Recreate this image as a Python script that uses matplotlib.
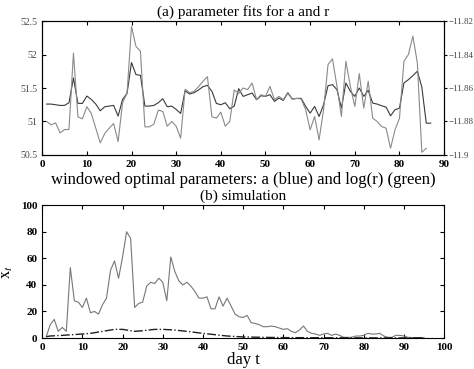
import numpy as np
import matplotlib
matplotlib.use("Agg")
import matplotlib.pyplot as plt

plt.rcParams['font.family'] = ['Liberation Serif', 'DejaVu Serif']
plt.rcParams['mathtext.fontset'] = 'stix'

# (a) windowed parameter fits, days 1..87 / 1..86
days_a = list(range(1, 88))
a_fit = [51.26, 51.26, 51.25, 51.24, 51.24, 51.28, 51.65, 51.27, 51.27, 51.38,
         51.33, 51.26, 51.16, 51.22, 51.23, 51.24, 51.08, 51.33, 51.42, 51.88,
         51.70, 51.69, 51.23, 51.23, 51.24, 51.28, 51.34, 51.22, 51.23, 51.18,
         51.12, 51.46, 51.41, 51.43, 51.47, 51.52, 51.54, 51.45, 51.27, 51.25,
         51.28, 51.19, 51.23, 51.49, 51.375, 51.40, 51.425, 51.325, 51.385, 51.375,
         51.40, 51.30, 51.35, 51.315, 51.425, 51.335, 51.345, 51.345, 51.225, 51.125,
         51.225, 51.075, 51.25, 51.535, 51.55, 51.475, 51.20, 51.575, 51.45, 51.375,
         51.50, 51.375, 51.465, 51.275, 51.26, 51.235, 51.215, 51.085, 51.175, 51.20,
         51.575, 51.625, 51.685, 51.75, 51.515, 50.975, 50.975]
days_r = list(range(1, 87))
logr_fit = [-11.880, -11.882, -11.8808, -11.8868, -11.8848, -11.8848, -11.8392, -11.8772, -11.8784, -11.8712,
            -11.8752, -11.884, -11.8928, -11.8872, -11.884, -11.8812, -11.892, -11.8688, -11.8632, -11.8232,
            -11.8352, -11.838, -11.8832, -11.8832, -11.8816, -11.8732, -11.874, -11.8828, -11.880, -11.8828,
            -11.890, -11.8608, -11.8628, -11.862, -11.8592, -11.856, -11.8532, -11.8772, -11.878, -11.8744,
            -11.8828, -11.880, -11.8612, -11.8632, -11.860, -11.861, -11.857, -11.867, -11.864, -11.865,
            -11.859, -11.867, -11.865, -11.867, -11.8626, -11.8666, -11.8662, -11.8666, -11.873, -11.885,
            -11.877, -11.891, -11.873, -11.846, -11.8426, -11.859, -11.877, -11.844, -11.859, -11.871,
            -11.8514, -11.872, -11.856, -11.878, -11.880, -11.883, -11.884, -11.896, -11.885, -11.878,
            -11.844, -11.840, -11.829, -11.845, -11.8984, -11.896]

# (b) simulation
days_x = list(range(1, 96))
x_sim = [1, 10, 14, 5, 8, 5, 53, 28, 27, 23,
         30, 19, 20, 18, 25, 30, 51, 58, 45, 61,
         80, 75, 23, 26, 27, 39, 42, 41, 45, 42,
         28, 61, 50, 43, 40, 42, 39, 35, 30, 30,
         31, 22, 22, 31, 24, 30, 24, 18, 16, 15.5,
         17, 11.5, 11, 10, 8.5, 8.5, 9, 8.5, 7.5, 6.5,
         7, 5, 4, 6, 9, 5, 3.5, 3, 2, 3,
         3.5, 2, 3, 2, 0.5, 0.5, 0.5, 1.5, 1.5, 2,
         3.5, 3, 3, 3.5, 1.5, 0.5, 0.5, 2, 2, 1.5,
         0.5, 0.3, 0.3, 0.3, 0.3]
days_m = [1, 2, 5, 10, 12, 15, 18, 20, 23, 25, 28, 30, 33, 36, 40, 43, 46, 50, 55, 60, 70, 80, 95]
x_mean = [1, 1.5, 2, 3, 3.5, 5, 6.5, 6.5, 5, 5.5, 6.5, 6.5, 6, 5, 3.5, 2.5, 1.5, 0.8, 0.5, 0.3, 0.2, 0.1, 0.1]

fig = plt.figure(figsize=(4.74, 3.69), dpi=100)

ax1 = fig.add_axes([0.089, 0.58, 0.848, 0.363])
ax1.plot(days_a, a_fit, color='#3a3a3a', lw=0.8)
ax1.set_xlim(0, 90)
ax1.set_ylim(50.5, 52.5)
ax1.set_xticks(range(0, 91, 10))
ax1.set_yticks([50.5, 51, 51.5, 52, 52.5])
ax1.set_yticklabels(['50.5', '51', '51.5', '52', '52.5'], fontsize=7, color='#444444')
ax1.tick_params(axis='x', labelsize=8, direction='in', top=True, length=3)
ax1.tick_params(axis='y', direction='in', length=3)
for lab in ax1.get_xticklabels():
    lab.set_fontweight('bold')
ax1.set_title('(a) parameter fits for a and r', fontsize=11, pad=4)
ax1.set_xlabel('windowed optimal parameters: a (blue) and log(r) (green)', fontsize=12, labelpad=2)

ax1r = ax1.twinx()
ax1r.plot(days_r, logr_fit, color='#8a8a8a', lw=0.8)
ax1r.set_ylim(-11.9, -11.82)
ax1r.set_yticks([-11.9, -11.88, -11.86, -11.84, -11.82])
ax1r.set_yticklabels(['\u221211.9', '\u221211.88', '\u221211.86', '\u221211.84', '\u221211.82'],
                     fontsize=6.5, color='#444444')
ax1r.tick_params(axis='y', direction='out', length=2, pad=1)

ax2 = fig.add_axes([0.089, 0.084, 0.848, 0.36])
ax2.plot(days_x, x_sim, color='#777777', lw=0.8)
ax2.plot(days_m, x_mean, color='#222222', lw=1.0, ls='-.')
ax2.set_xlim(0, 100)
ax2.set_ylim(0, 100)
ax2.set_xticks(range(0, 101, 10))
ax2.set_yticks(range(0, 101, 20))
ax2.tick_params(labelsize=8, direction='in', top=True, right=True, length=3)
for lab in ax2.get_xticklabels() + ax2.get_yticklabels():
    lab.set_fontweight('bold')
ax2.set_title('(b) simulation', fontsize=11, pad=4)
ax2.set_xlabel('day t', fontsize=12, labelpad=0)
ax2.set_ylabel('$\\mathrm{x}_t$', fontsize=12, labelpad=4)

fig.savefig('out.png', dpi=100)
